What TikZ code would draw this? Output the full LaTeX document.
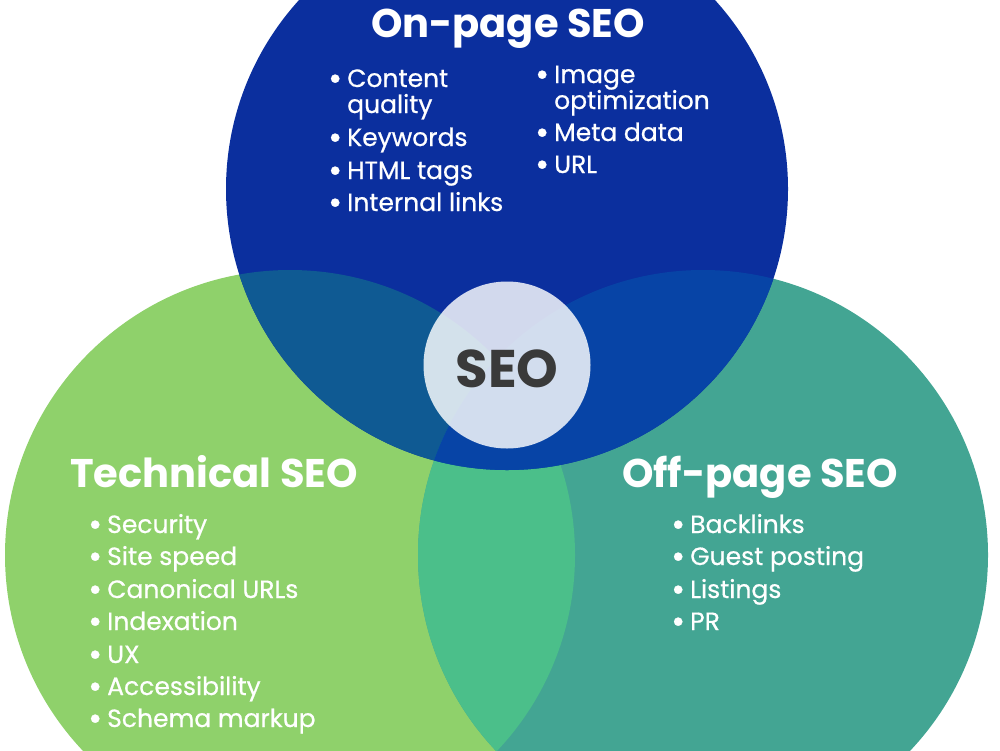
\documentclass[tikz,border=0pt]{standalone}
\usepackage{fontspec}
\setmainfont{Poppins}
\usetikzlibrary{positioning}

\definecolor{onpageblue}{HTML}{0B2F9E}
\definecolor{techgreen}{HTML}{8FD16B}
\definecolor{offteal}{HTML}{43A593}
\definecolor{bluegreen}{HTML}{0F5A93}
\definecolor{blueteal}{HTML}{0744A6}
\definecolor{greenteal}{HTML}{4BBF8A}
\definecolor{tripleblue}{HTML}{0A6F98}
\definecolor{seogray}{HTML}{3A3A3A}

\newcommand{\bul}{\makebox[14pt][l]{\hspace{-5pt}\raisebox{-3pt}{\fontsize{34}{34}\selectfont •}}}
\newcommand{\nobul}{\makebox[14pt][l]{}}

\begin{document}
\begin{tikzpicture}[
	x=1pt, y=-1pt,
	title/.style={
		text=white,
		font=\fontsize{40}{40}\selectfont\bfseries,
		anchor=base,
		inner sep=0pt
	},
	item/.style={
		text=white,
		font=\fontsize{25}{25}\selectfont\addfontfeature{FakeBold=0.6},
		anchor=base west,
		inner sep=0pt
	},
	hub/.style={
		circle,
		minimum size=167pt,
		inner sep=0pt,
		fill=white,
		fill opacity=0.82,
		text opacity=1,
		text=seogray,
		font=\fontsize{53}{53}\selectfont\bfseries
	}
	]
	\useasboundingbox (0,0) rectangle (1000,750);
	\clip (0,0) rectangle (1000,750);

	\coordinate (onpage) at (507,189);
	\coordinate (tech) at (290,555);
	\coordinate (offpage) at (703,555);

	% the three circles
	\fill[techgreen] (tech) circle[radius=285pt];
	\fill[offteal] (offpage) circle[radius=285pt];
	\fill[onpageblue] (onpage) circle[radius=281pt];

	% overlaps
	\begin{scope}
		\clip (tech) circle[radius=285pt];
		\fill[greenteal] (offpage) circle[radius=285pt];
		\fill[bluegreen] (onpage) circle[radius=281pt];
		\clip (offpage) circle[radius=285pt];
		\fill[tripleblue] (onpage) circle[radius=281pt];
	\end{scope}
	\begin{scope}
		\clip (offpage) circle[radius=285pt];
		\fill[blueteal] (onpage) circle[radius=281pt];
	\end{scope}

	\node[hub] (seo) at (507,365) {\raisebox{-4pt}[\height][\depth]{SEO}};

	% titles
	\node[title] (onpage-title) at (508,37) {On-page SEO};
	\node[title] (tech-title) at (214,487) {Technical SEO};
	\node[title] (offpage-title) at (760,487) {Off-page SEO};

	% on-page items
	\node[item] (content) at (333,87) {\bul Content};
	\node[item] (quality) at (333,113) {\nobul quality};
	\node[item] (keywords) at (333,146) {\bul Keywords};
	\node[item] (html) at (333,179) {\bul HTML tags};
	\node[item] (links) at (333,211) {\bul Internal links};
	\node[item] (image) at (540,83) {\bul Image};
	\node[item] (optim) at (540,109) {\nobul optimization};
	\node[item] (meta) at (540,141) {\bul Meta data};
	\node[item] (url) at (540,173) {\bul URL};

	% technical items
	\foreach \y/\txt [count=\i] in {533/Security, 565/Site speed, 598/Canonical URLs, 630/Indexation, 663/UX, 695/Accessibility, 727/Schema markup}{
		\node[item] (tech-\i) at (93,\y) {\bul\txt};
	}

	% off-page items
	\foreach \y/\txt [count=\i] in {533/Backlinks, 565/Guest posting, 598/Listings, 630/PR}{
		\node[item] (off-\i) at (676,\y) {\bul\txt};
	}
\end{tikzpicture}
\end{document}
